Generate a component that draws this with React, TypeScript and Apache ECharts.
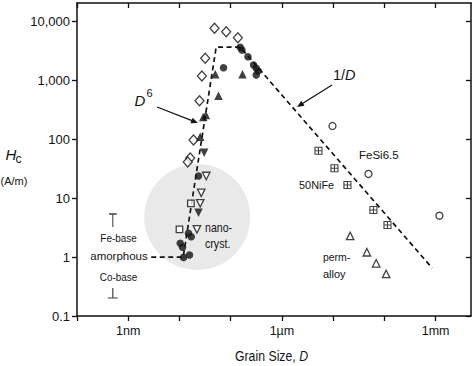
import React, { useEffect, useRef } from "react";
import * as echarts from "echarts";

// ---- data (grain size D in nm, coercivity Hc in A/m) ----
const xTickValues = [0.1, 1, 10, 100, 1000, 10000, 100000, 1000000];
const xLabelValues = [1, 1000, 1000000];
const xLabelTexts = ["1nm", "1µm", "1mm"];
const yTickValues = [0.1, 1, 10, 100, 1000, 10000];
const yLabelTexts = ["0.1", "1", "10", "100", "1,000", "10,000"];

const openDiamonds = [
  [48.3, 7730], [81.7, 6760], [138, 5350], [31.8, 2390], [27.4, 1194],
  [24.6, 455], [18.8, 97.7], [16.2, 48.3], [14.5, 41.3],
];
const filledCircles = [
  [153, 3673], [165.5, 3304], [217, 2541], [279, 1837], [315, 1614],
  [344, 1452], [315, 1242], [72.4, 1652], [23.5, 23.9], [15.0, 2.54],
  [16.96, 2.22], [10.35, 1.72], [11.47, 1.47], [12.0, 0.99], [15.7, 1.09],
];
const filledUpTriangles = [
  [49.9, 1277], [170, 1277], [57.8, 553], [32.8, 260], [29.1, 240], [25.4, 111],
];
const filledDownTriangles = [[30.4, 59.4], [23.5, 5.69]];
const openDownTriangles = [[33.3, 23.9], [26.6, 12.4], [25.4, 8.22], [21.9, 2.97]];
const openSquares = [[16.7, 8.22], [10.0, 2.97]];
const feSiCircles = [[9690, 169], [48860, 25.9], [1186000, 5.06]];
const niFeSquares = [[5164, 64.3], [10600, 32.3], [19000, 16.8], [61100, 6.32], [114800, 3.52]];
const permalloyTriangles = [[21470, 2.29], [45470, 1.21], [69000, 0.785], [108200, 0.518]];
const trendLine = [[2.81, 1.0], [11.8, 1.0], [52.1, 3715], [153, 3715], [855000, 0.653]];
const nanoRegion = [[22.2, 4.81]];
const feBaseTop = [[0.5, 4.19]];
const coBaseBottom = [[0.5, 0.246]];

const FONT = '"Liberation Sans", Arial, Helvetica, sans-serif';
const INK = "#111";
const TXT = "#141414";

function nearestIdx(values: number[], v: number) {
  let best = 0;
  let bd = Infinity;
  values.forEach((t, i) => {
    const d = Math.abs(Math.log10(t) - Math.log10(v));
    if (d < bd) { bd = d; best = i; }
  });
  return best;
}

const openStyle = { color: "#fff", borderColor: INK, borderWidth: 1.3 };
const filledStyle = { color: INK, borderColor: INK, borderWidth: 0 };

function txt(text: string, x: number, y: number, size: number, opts: any = {}) {
  return {
    type: "text",
    x, y,
    scaleX: opts.scaleX ?? 1,
    z: 100,
    style: {
      text,
      fill: TXT,
      fontSize: size,
      fontFamily: FONT,
      fontStyle: opts.italic ? "italic" : "normal",
      align: opts.align ?? "center",
      textAlign: opts.align ?? "center",
      verticalAlign: "middle",
      textVerticalAlign: "middle",
      rich: opts.rich,
    },
  };
}

export default function App() {
  const ref = useRef<HTMLDivElement>(null);
  useEffect(() => {
    if (!ref.current) return;
    const chart = echarts.init(ref.current, null, { renderer: "svg" });
    const xBase = {
      type: "log",
      logBase: 10,
      min: 0.1,
      max: 4.9e6,
      splitLine: { show: false },
      minorTick: { show: false },
      axisLine: { show: true, onZero: false, lineStyle: { color: INK, width: 1.5 } },
    };
    const yBase = {
      type: "log",
      logBase: 10,
      min: 0.1,
      max: 20800,
      splitLine: { show: false },
      minorTick: { show: false },
      axisLine: { show: true, onZero: false, lineStyle: { color: INK, width: 1.5 } },
    };
    chart.setOption({
      animation: false,
      grid: { left: 77, right: 3, top: 3, bottom: 50, containLabel: false },
      xAxis: [
        {
          ...xBase,
          position: "bottom",
          axisTick: { show: true, inside: false, length: 5, lineStyle: { color: INK, width: 1.3 }, customValues: xTickValues },
          axisLabel: {
            show: true,
            customValues: xLabelValues,
            margin: 8,
            fontSize: 12.5,
            color: TXT,
            fontFamily: FONT,
            formatter: (v: number) => xLabelTexts[nearestIdx(xLabelValues, v)],
          },
        },
        {
          ...xBase,
          position: "top",
          axisTick: { show: true, inside: true, length: 5, lineStyle: { color: INK, width: 1.3 }, customValues: xTickValues },
          axisLabel: { show: false },
        },
      ],
      yAxis: [
        {
          ...yBase,
          position: "left",
          axisTick: { show: true, inside: false, length: 5, lineStyle: { color: INK, width: 1.3 }, customValues: yTickValues },
          axisLabel: {
            show: true,
            customValues: yTickValues,
            margin: 7,
            fontSize: 13,
            color: TXT,
            fontFamily: FONT,
            formatter: (v: number) => yLabelTexts[nearestIdx(yTickValues, v)],
          },
        },
        {
          ...yBase,
          position: "right",
          axisTick: { show: true, inside: true, length: 5, lineStyle: { color: INK, width: 1.3 }, customValues: yTickValues },
          axisLabel: { show: false },
        },
      ],
      series: [
        { type: "scatter", data: nanoRegion, symbol: "circle", symbolSize: 106, itemStyle: { color: "#e4e4e4" }, silent: true, z: 1 },
        {
          type: "line", data: trendLine, symbol: "none", z: 2, silent: true,
          lineStyle: { color: INK, width: 1.7, type: [5, 3.5] },
        },
        { type: "scatter", data: openDiamonds, symbol: "diamond", symbolSize: [9, 10], itemStyle: openStyle, z: 3 },
        { type: "scatter", data: filledCircles, symbol: "circle", symbolSize: 7.5, itemStyle: filledStyle, z: 3 },
        { type: "scatter", data: filledUpTriangles, symbol: "triangle", symbolSize: 8.5, itemStyle: filledStyle, z: 3 },
        { type: "scatter", data: filledDownTriangles, symbol: "triangle", symbolRotate: 180, symbolSize: 8.5, itemStyle: filledStyle, z: 3 },
        { type: "scatter", data: openDownTriangles, symbol: "triangle", symbolRotate: 180, symbolSize: 7.5, itemStyle: openStyle, z: 3 },
        { type: "scatter", data: openSquares, symbol: "rect", symbolSize: 6.5, itemStyle: openStyle, z: 3 },
        { type: "scatter", data: feSiCircles, symbol: "circle", symbolSize: 7, itemStyle: openStyle, z: 3 },
        {
          type: "scatter", data: niFeSquares, z: 3,
          symbol: "path://M0,0L10,0L10,10L0,10Z M5,0L5,10 M0,5L10,5",
          symbolSize: 7, itemStyle: { color: "#fff", borderColor: INK, borderWidth: 1.1 },
        },
        { type: "scatter", data: permalloyTriangles, symbol: "triangle", symbolSize: 7.5, itemStyle: openStyle, z: 3 },
        {
          type: "scatter", data: feBaseTop, z: 3, symbolKeepAspect: true,
          symbol: "path://M0,0L10,0M5,0L5,13", symbolSize: [10, 13],
          itemStyle: { color: "transparent", borderColor: INK, borderWidth: 1.2 },
        },
        {
          type: "scatter", data: coBaseBottom, z: 3, symbolKeepAspect: true,
          symbol: "path://M5,0L5,10M0,10L10,10", symbolSize: [10, 10],
          itemStyle: { color: "transparent", borderColor: INK, borderWidth: 1.2 },
        },
      ],
      graphic: [
        // axis titles
        txt("H", 11, 154, 15, { italic: true }),
        txt("c", 18.5, 158.5, 12),
        txt("(A/m)", 14, 181, 11),
        txt("{a|Grain Size, }{b|D}", 271.5, 356, 15, {
          scaleX: 0.82,
          rich: {
            a: { fontSize: 15, fontFamily: FONT, fill: TXT },
            b: { fontSize: 15, fontFamily: FONT, fill: TXT, fontStyle: "italic" },
          },
        }),
        // slope labels
        txt("D", 140, 100, 15, { italic: true }),
        txt("6", 149.5, 92.5, 11),
        txt("{a|1/}{b|D}", 333, 75, 14.5, {
          align: "left",
          rich: {
            a: { fontSize: 14.5, fontFamily: FONT, fill: TXT },
            b: { fontSize: 14.5, fontFamily: FONT, fill: TXT, fontStyle: "italic" },
          },
        }),
        // arrows
        { type: "line", z: 100, shape: { x1: 157, y1: 107, x2: 192, y2: 120.6 }, style: { stroke: INK, lineWidth: 1.2 } },
        { type: "polygon", z: 100, shape: { points: [[198, 123], [190.4, 123.25], [192.6, 117.65]] }, style: { fill: INK } },
        { type: "line", z: 100, shape: { x1: 332, y1: 85, x2: 302.5, y2: 103.5 }, style: { stroke: INK, lineWidth: 1.2 } },
        { type: "polygon", z: 100, shape: { points: [[297, 107], [301.3, 100.7], [304.5, 105.8]] }, style: { fill: INK } },
        // group labels
        txt("Fe-base", 118.5, 238, 11, { scaleX: 0.9 }),
        txt("amorphous", 119, 256, 11.5),
        txt("Co-base", 118.5, 277, 11, { scaleX: 0.9 }),
        txt("nano-", 205, 227, 12.5, { align: "left", scaleX: 0.85 }),
        txt("cryst.", 205, 243, 12.5, { align: "left", scaleX: 0.85 }),
        txt("FeSi6.5", 359, 155, 11.5, { align: "left" }),
        txt("50NiFe", 299, 185, 11.5, { align: "left", scaleX: 0.95 }),
        txt("perm-", 323, 257, 11, { align: "left", scaleX: 0.95 }),
        txt("alloy", 323, 274, 11, { align: "left" }),
      ],
    });
    return () => chart.dispose();
  }, []);
  return (
    <div
      ref={ref}
      style={{ position: "fixed", left: 0, top: 0, width: 474, height: 366, background: "#fff" }}
    />
  );
}
